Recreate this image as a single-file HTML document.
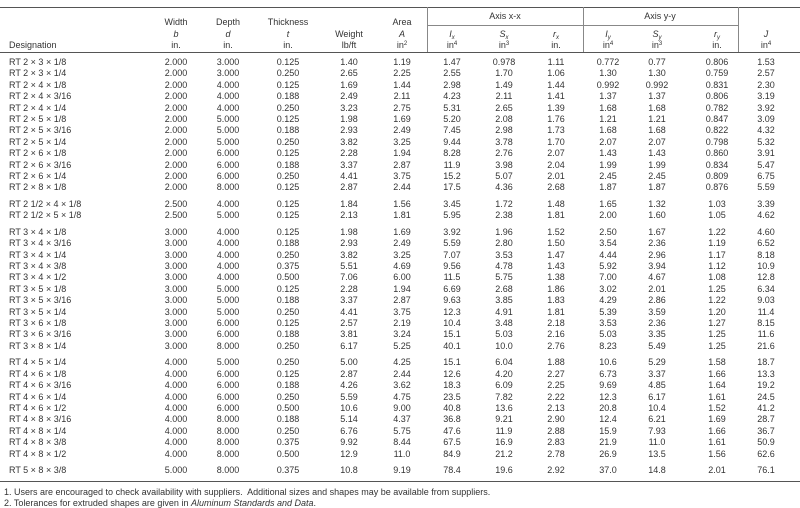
<!DOCTYPE html>
<html><head><meta charset="utf-8">
<style>
body{margin:0;background:#fff;}
#page{position:relative;width:800px;height:508px;overflow:hidden;background:#fff;font-family:"Liberation Sans",sans-serif;font-size:9px;color:#333;}
.t{position:absolute;white-space:nowrap;line-height:10px;}
.c{transform:translateX(-50%);}
.rule{position:absolute;background:#555;}
i{font-style:italic;}
sub{font-size:6px;vertical-align:-2px;line-height:0;}
sup{font-size:6px;vertical-align:3px;line-height:0;}
</style></head>
<body>
<div id="page">
  <div class="rule" style="left:0;top:7px;width:800px;height:1px;"></div>
  <div class="rule" style="left:0;top:52px;width:800px;height:1px;"></div>
  <div class="rule" style="left:0;top:481px;width:800px;height:1px;"></div>
  <div class="rule" style="left:427px;top:25px;width:311px;height:1px;background:#888;"></div>
  <div class="rule" style="left:427px;top:7px;width:1px;height:45px;background:#888;"></div>
  <div class="rule" style="left:583px;top:7px;width:1px;height:45px;background:#888;"></div>
  <div class="rule" style="left:738px;top:7px;width:1px;height:45px;background:#888;"></div>

  <div class="t c" style="left:505px;top:11px;">Axis x-x</div>
  <div class="t c" style="left:660px;top:11px;">Axis y-y</div>

  <div class="t" style="left:9px;top:40px;">Designation</div>
  <div class="t c" style="left:176px;top:17px;text-align:center;line-height:11.5px;">Width<br><i>b</i><br>in.</div>
  <div class="t c" style="left:228px;top:17px;text-align:center;line-height:11.5px;">Depth<br><i>d</i><br>in.</div>
  <div class="t c" style="left:288px;top:17px;text-align:center;line-height:11.5px;">Thickness<br><i>t</i><br>in.</div>
  <div class="t c" style="left:349px;top:28.5px;text-align:center;line-height:11.5px;">Weight<br>lb/ft</div>
  <div class="t c" style="left:402px;top:17px;text-align:center;line-height:11.5px;">Area<br><i>A</i><br>in<sup>2</sup></div>
  <div class="t c" style="left:452px;top:28.5px;text-align:center;line-height:11.5px;"><i>I<sub>x</sub></i><br>in<sup>4</sup></div>
  <div class="t c" style="left:504px;top:28.5px;text-align:center;line-height:11.5px;"><i>S<sub>x</sub></i><br>in<sup>3</sup></div>
  <div class="t c" style="left:556px;top:28.5px;text-align:center;line-height:11.5px;"><i>r<sub>x</sub></i><br>in.</div>
  <div class="t c" style="left:608px;top:28.5px;text-align:center;line-height:11.5px;"><i>I<sub>y</sub></i><br>in<sup>4</sup></div>
  <div class="t c" style="left:657px;top:28.5px;text-align:center;line-height:11.5px;"><i>S<sub>y</sub></i><br>in<sup>3</sup></div>
  <div class="t c" style="left:717px;top:28.5px;text-align:center;line-height:11.5px;"><i>r<sub>y</sub></i><br>in.</div>
  <div class="t c" style="left:766px;top:28.5px;text-align:center;line-height:11.5px;"><i>J</i><br>in<sup>4</sup></div>

  <div id="body"></div>

  <div class="t" style="left:4px;top:487px;">1. Users are encouraged to check availability with suppliers.&nbsp; Additional sizes and shapes may be available from suppliers.</div>
  <div class="t" style="left:4px;top:498px;">2. Tolerances for extruded shapes are given in <i>Aluminum Standards and Data</i>.</div>
</div>
<script>
const designations = ["RT 2 × 3 × 1/8","RT 2 × 3 × 1/4","RT 2 × 4 × 1/8","RT 2 × 4 × 3/16","RT 2 × 4 × 1/4","RT 2 × 5 × 1/8","RT 2 × 5 × 3/16","RT 2 × 5 × 1/4","RT 2 × 6 × 1/8","RT 2 × 6 × 3/16","RT 2 × 6 × 1/4","RT 2 × 8 × 1/8",
"RT 2 1/2 × 4 × 1/8","RT 2 1/2 × 5 × 1/8",
"RT 3 × 4 × 1/8","RT 3 × 4 × 3/16","RT 3 × 4 × 1/4","RT 3 × 4 × 3/8","RT 3 × 4 × 1/2","RT 3 × 5 × 1/8","RT 3 × 5 × 3/16","RT 3 × 5 × 1/4","RT 3 × 6 × 1/8","RT 3 × 6 × 3/16","RT 3 × 8 × 1/4",
"RT 4 × 5 × 1/4","RT 4 × 6 × 1/8","RT 4 × 6 × 3/16","RT 4 × 6 × 1/4","RT 4 × 6 × 1/2","RT 4 × 8 × 3/16","RT 4 × 8 × 1/4","RT 4 × 8 × 3/8","RT 4 × 8 × 1/2",
"RT 5 × 8 × 3/8"];
const groupOf = [0,0,0,0,0,0,0,0,0,0,0,0,1,1,2,2,2,2,2,2,2,2,2,2,2,3,3,3,3,3,3,3,3,3,4];
const values = [
["2.000","3.000","0.125","1.40","1.19","1.47","0.978","1.11","0.772","0.77","0.806","1.53"],
["2.000","3.000","0.250","2.65","2.25","2.55","1.70","1.06","1.30","1.30","0.759","2.57"],
["2.000","4.000","0.125","1.69","1.44","2.98","1.49","1.44","0.992","0.992","0.831","2.30"],
["2.000","4.000","0.188","2.49","2.11","4.23","2.11","1.41","1.37","1.37","0.806","3.19"],
["2.000","4.000","0.250","3.23","2.75","5.31","2.65","1.39","1.68","1.68","0.782","3.92"],
["2.000","5.000","0.125","1.98","1.69","5.20","2.08","1.76","1.21","1.21","0.847","3.09"],
["2.000","5.000","0.188","2.93","2.49","7.45","2.98","1.73","1.68","1.68","0.822","4.32"],
["2.000","5.000","0.250","3.82","3.25","9.44","3.78","1.70","2.07","2.07","0.798","5.32"],
["2.000","6.000","0.125","2.28","1.94","8.28","2.76","2.07","1.43","1.43","0.860","3.91"],
["2.000","6.000","0.188","3.37","2.87","11.9","3.98","2.04","1.99","1.99","0.834","5.47"],
["2.000","6.000","0.250","4.41","3.75","15.2","5.07","2.01","2.45","2.45","0.809","6.75"],
["2.000","8.000","0.125","2.87","2.44","17.5","4.36","2.68","1.87","1.87","0.876","5.59"],
["2.500","4.000","0.125","1.84","1.56","3.45","1.72","1.48","1.65","1.32","1.03","3.39"],
["2.500","5.000","0.125","2.13","1.81","5.95","2.38","1.81","2.00","1.60","1.05","4.62"],
["3.000","4.000","0.125","1.98","1.69","3.92","1.96","1.52","2.50","1.67","1.22","4.60"],
["3.000","4.000","0.188","2.93","2.49","5.59","2.80","1.50","3.54","2.36","1.19","6.52"],
["3.000","4.000","0.250","3.82","3.25","7.07","3.53","1.47","4.44","2.96","1.17","8.18"],
["3.000","4.000","0.375","5.51","4.69","9.56","4.78","1.43","5.92","3.94","1.12","10.9"],
["3.000","4.000","0.500","7.06","6.00","11.5","5.75","1.38","7.00","4.67","1.08","12.8"],
["3.000","5.000","0.125","2.28","1.94","6.69","2.68","1.86","3.02","2.01","1.25","6.34"],
["3.000","5.000","0.188","3.37","2.87","9.63","3.85","1.83","4.29","2.86","1.22","9.03"],
["3.000","5.000","0.250","4.41","3.75","12.3","4.91","1.81","5.39","3.59","1.20","11.4"],
["3.000","6.000","0.125","2.57","2.19","10.4","3.48","2.18","3.53","2.36","1.27","8.15"],
["3.000","6.000","0.188","3.81","3.24","15.1","5.03","2.16","5.03","3.35","1.25","11.6"],
["3.000","8.000","0.250","6.17","5.25","40.1","10.0","2.76","8.23","5.49","1.25","21.6"],
["4.000","5.000","0.250","5.00","4.25","15.1","6.04","1.88","10.6","5.29","1.58","18.7"],
["4.000","6.000","0.125","2.87","2.44","12.6","4.20","2.27","6.73","3.37","1.66","13.3"],
["4.000","6.000","0.188","4.26","3.62","18.3","6.09","2.25","9.69","4.85","1.64","19.2"],
["4.000","6.000","0.250","5.59","4.75","23.5","7.82","2.22","12.3","6.17","1.61","24.5"],
["4.000","6.000","0.500","10.6","9.00","40.8","13.6","2.13","20.8","10.4","1.52","41.2"],
["4.000","8.000","0.188","5.14","4.37","36.8","9.21","2.90","12.4","6.21","1.69","28.7"],
["4.000","8.000","0.250","6.76","5.75","47.6","11.9","2.88","15.9","7.93","1.66","36.7"],
["4.000","8.000","0.375","9.92","8.44","67.5","16.9","2.83","21.9","11.0","1.61","50.9"],
["4.000","8.000","0.500","12.9","11.0","84.9","21.2","2.78","26.9","13.5","1.56","62.6"],
["5.000","8.000","0.375","10.8","9.19","78.4","19.6","2.92","37.0","14.8","2.01","76.1"]
];
</script>
<script>
const colNames = ["width","depth","thickness","weight","area","ix","sx","rx","iy","sy","ry","j"];
const colCenters = [176,228,288,349,402,452,504,556,608,657,717,766];
const pitch = 11.4, gap = 5.1, firstTop = 57;
const body = document.getElementById('body');
designations.forEach((d, r) => {
  const top = firstTop + r * pitch + groupOf[r] * gap;
  const row = document.createElement('div');
  
  
  const lab = document.createElement('div');
  lab.className = 't';
  lab.style.left = '9px';
  lab.style.top = top + 'px';
  lab.textContent = d;
  
  
  row.appendChild(lab);
  values[r].forEach((v, c) => {
    const cell = document.createElement('div');
    cell.className = 't c';
    cell.style.left = colCenters[c] + 'px';
    cell.style.top = top + 'px';
    cell.textContent = v;
    
    
    row.appendChild(cell);
  });
  body.appendChild(row);
});
</script>
</body></html>
